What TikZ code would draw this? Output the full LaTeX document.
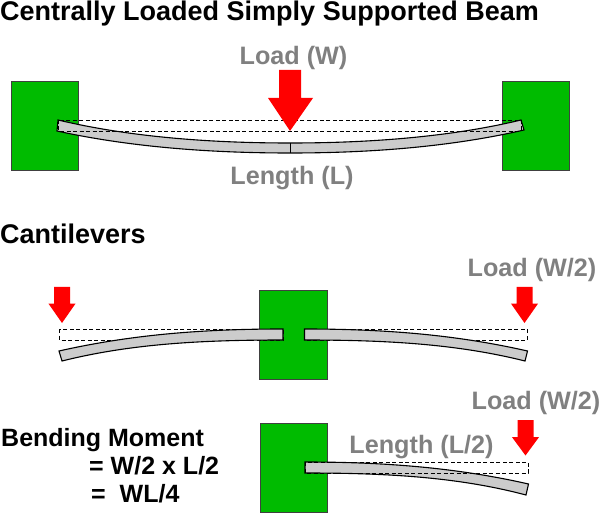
\documentclass[tikz,border=0pt]{standalone}
\usepackage{fontspec}
\setmainfont{Liberation Sans}
\definecolor{gr}{RGB}{0,187,0}
\definecolor{lb}{RGB}{128,128,128}
\definecolor{bm}{RGB}{204,204,204}
\tikzset{
 block/.style={fill=gr,draw=black!75,line width=0.8pt},
 beam/.style={fill=bm,draw=black,line width=1.1pt,line join=miter},
 ghost/.style={draw=black,dash pattern=on 4pt off 2.5pt,line width=0.9pt},
 lab/.style={text=lb,font=\bfseries\fontsize{25.2}{25.2}\selectfont,inner sep=0pt,anchor=base},
 title/.style={text=black,font=\bfseries\fontsize{27}{27}\selectfont,inner sep=0pt,anchor=base west},
 note/.style={text=black,font=\bfseries\fontsize{25}{25}\selectfont,inner sep=0pt,anchor=base west},
}
\newcommand{\redarrow}[5]{%
 \fill[red] (#1-#5,#2) -- (#1+#5,#2) -- (#1+#5,#3) -- (#1+#5*1.7,#3) -- (#1,#4) -- (#1-#5*1.7,#3) -- (#1-#5,#3) -- cycle;}
\begin{document}
\begin{tikzpicture}[x=1pt,y=-1pt]
\useasboundingbox (0,0) rectangle (600,513);
% simply supported
\draw[block] (11.5,81) rectangle (78.5,170);
\draw[block] (502,81) rectangle (569.5,170);
\draw[beam] (58,120) .. controls (130,137) and (210,143) .. (290,143)
 .. controls (370,143) and (450,137) .. (521,120) -- (524,130)
 .. controls (450,147) and (370,153) .. (290,153)
 .. controls (210,153) and (130,147) .. (57,131) -- cycle;
\draw[line width=0.8pt] (290,143) -- (290,153);
\draw[ghost] (58,120) rectangle (521,131);
\fill[red] (279,70) -- (301,70) -- (301,98) -- (313,98) -- (290,131) -- (268,98) -- (279,98) -- cycle;
\node[title] (t1) at (0,20.5) {Centrally Loaded Simply Supported Beam};
\node[lab] (l1) at (293.5,65) {Load (W)};
\node[lab] (l2) at (292,184.5) {Length (L)};
% cantilevers
\node[title] (t2) at (0,244) {Cantilevers};
\draw[block] (259.5,290) rectangle (327,379);
\draw[ghost] (59.5,329) rectangle (283,340);
\draw[ghost] (304.5,329) rectangle (527,340);
\draw[beam] (283,329) -- (283,340) .. controls (200,340) and (130,344) .. (62,361) -- (59,351)
 .. controls (130,335) and (200,329) .. (283,329) -- cycle;
\draw[beam] (304.5,329) -- (304.5,340) .. controls (387,340) and (457,344) .. (525,361) -- (527.5,351)
 .. controls (457,335) and (387,329) .. (304.5,329) -- cycle;
\redarrow{62}{287}{303.5}{323}{8}
\redarrow{524.5}{287}{303.5}{323}{8}
\node[lab] (l3) at (532,276.5) {Load (W/2)};
% bending moment
\draw[block] (260,423) rectangle (327,512.5);
\draw[beam] (305,462) -- (305,473) .. controls (387,473) and (458,477) .. (526,495) -- (528.5,484)
 .. controls (458,468) and (387,462) .. (305,462) -- cycle;
\draw[ghost] (305,462) rectangle (528,473);
\redarrow{525.5}{420}{437}{455.5}{8}
\node[lab] (l4) at (536,409) {Load (W/2)};
\node[lab] (l5) at (421.5,453.5) {Length (L/2)};
\node[note] (n1) at (1,446) {Bending Moment};
\node[note] (n2) at (89,474) {= W/2 x L/2};
\node[note] (n3) at (91,502) {=\ \ WL/4};
\end{tikzpicture}
\end{document}
